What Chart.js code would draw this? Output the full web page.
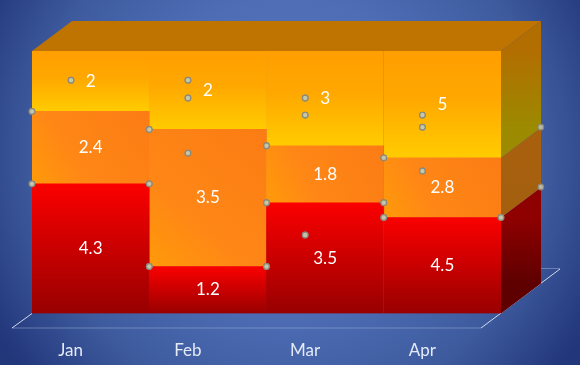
<!DOCTYPE html>
<html><head><meta charset="utf-8">
<style>html,body{margin:0;padding:0;background:#2f4783}canvas{display:block}</style>
<script src="https://cdn.jsdelivr.net/npm/chart.js@4"></script>
</head><body><canvas id="c" width="580" height="365"></canvas>
<script>
const categories = ['Jan', 'Feb', 'Mar', 'Apr'];
const series1 = [4.3, 1.2, 3.5, 4.5];
const series2 = [2.4, 3.5, 1.8, 2.8];
const series3 = [2, 2, 3, 5];
// small handle dots: x in category units, y in percent of the stack
const handleX = [-0.5,-0.5,-0.167,0.5,0.5,0.5,0.83,0.83,0.83,1.5,1.5,1.5,1.83,1.83,1.83,2.5,2.5,2.5,2.83,2.83,2.83,3.5,3.84,3.84];
const handleY = [77,49.4,88.9,70.1,49.4,17.9,88.9,82.1,61.1,63.9,42.2,17.9,82.1,75.6,29.9,59.3,42.2,36.6,75.6,71,54.3,36.6,71,48.2];

const totals = categories.map((_, i) => series1[i] + series2[i] + series3[i]);
const pct = s => s.map((v, i) => v / totals[i] * 100);
const rawSeries = [series1, series2, series3];
const base = [categories.map(() => 0), pct(series1), pct(series1).map((v, i) => v + pct(series2)[i])];

function barFill(k) {
  return ctx => {
    const c = ctx.chart, i = ctx.dataIndex, y = c.scales.y, area = c.chartArea;
    if (!area || !y) return '#f80';
    const y0 = y.getPixelForValue(base[k][i]), y1 = y.getPixelForValue(base[k][i] + pct(rawSeries[k])[i]);
    const w = (area.right - area.left) / categories.length;
    const x0 = area.left + i * w, x1 = x0 + w;
    let g;
    if (k === 1) {
      g = c.ctx.createLinearGradient(x0, y0, x1, y1);
      g.addColorStop(0, '#ff9a09'); g.addColorStop(0.35, '#ff8716'); g.addColorStop(1, '#fb7c14');
    } else {
      g = c.ctx.createLinearGradient(0, y1, 0, y0);
      if (k === 0) { g.addColorStop(0, '#fb0000'); g.addColorStop(1, '#980000'); }
      else { g.addColorStop(0, '#ff9e00'); g.addColorStop(0.45, '#ffa800'); g.addColorStop(1, '#ffcc00'); }
    }
    return g;
  };
}

const DX = 40, DY = -30;
const faces = {
  id: 'faces',
  beforeDraw(c) {
    const g = c.ctx, W = c.width, H = c.height;
    const bg = g.createRadialGradient(W / 2, H * 0.42, 0, W / 2, H * 0.42, 345);
    bg.addColorStop(0, '#5a79c3'); bg.addColorStop(0.45, '#4e6db5'); bg.addColorStop(0.75, '#3d5a9d'); bg.addColorStop(1, '#22367a');
    g.fillStyle = bg; g.fillRect(0, 0, W, H);
  },
  beforeDatasetsDraw(c) {
    const g = c.ctx, a = c.chartArea, y = c.scales.y, last = categories.length - 1;
    const R = a.right, L = a.left, T = a.top, B = a.bottom;
    g.save();
    g.lineWidth = 1;
    g.strokeStyle = 'rgba(160,178,215,.5)';
    g.beginPath(); g.moveTo(L - 20, B + 14.5); g.lineTo(R - 20, B + 14.5); g.stroke();
    g.beginPath(); g.moveTo(R + DX, B + 2 * DY + 15); g.lineTo(R + 59, B + 2 * DY + 15); g.stroke();
    g.strokeStyle = 'rgba(225,232,248,.9)';
    g.beginPath(); g.moveTo(L, B); g.lineTo(L - 20, B + 14.5); g.stroke();
    g.beginPath(); g.moveTo(R - 20, B + 14.5); g.lineTo(R + 59, B - 44.5); g.stroke();
    g.fillStyle = '#bf7300';
    g.beginPath(); g.moveTo(L, T); g.lineTo(L + DX, T + DY); g.lineTo(R + DX, T + DY); g.lineTo(R, T); g.closePath(); g.fill();
    const sideCols = [['#8f0000', '#5e0000'], ['#a8600e', '#a5600f'], ['#b26e00', '#9c8a00']];
    for (let k = 0; k < 3; k++) {
      const y0 = y.getPixelForValue(base[k][last]);
      const y1 = y.getPixelForValue(base[k][last] + pct(rawSeries[k])[last]);
      const lg = g.createLinearGradient(0, y1, 0, y0 + DY);
      lg.addColorStop(0, sideCols[k][0]); lg.addColorStop(1, sideCols[k][1]);
      g.fillStyle = lg;
      g.beginPath(); g.moveTo(R, y1); g.lineTo(R + DX, y1 + DY); g.lineTo(R + DX, y0 + DY); g.lineTo(R, y0); g.closePath(); g.fill();
    }
    g.restore();
  },
  afterDatasetsDraw(c) {
    const g = c.ctx, a = c.chartArea, w = (a.right - a.left) / categories.length;
    g.save();
    // seam between the last two columns
    const sx = Math.round(a.left + 3 * w) - 0.5;
    g.strokeStyle = 'rgba(190,90,0,.22)'; g.lineWidth = 1;
    g.beginPath(); g.moveTo(sx, a.top); g.lineTo(sx, a.bottom); g.stroke();
    // handle dots (the library skips those outside the plot area)
    const page = { left: 0, right: c.width, top: 0, bottom: c.height };
    c.getDatasetMeta(3).data.forEach(el => el.draw(g, page));
    // value labels
    g.font = '17px Lato';
    g.fillStyle = '#fff';
    g.textAlign = 'center'; g.textBaseline = 'middle';
    for (let k = 0; k < 3; k++) {
      c.getDatasetMeta(k).data.forEach((el, i) => {
        const p = el.getCenterPoint();
        g.fillText(String(rawSeries[k][i]), p.x, p.y);
      });
    }
    g.restore();
  }
};

new Chart(document.getElementById('c'), {
  data: {
    labels: categories,
    datasets: [
      ...rawSeries.map((s, k) => ({
        type: 'bar', label: 'Series ' + (k + 1), data: pct(s), backgroundColor: barFill(k),
        borderWidth: 0, categoryPercentage: 1, barPercentage: 1, order: 2, grouped: false
      })),
      {
        type: 'scatter', label: 'handles', xAxisID: 'xh', yAxisID: 'yh', clip: false, order: 0,
        data: handleX.map((x, i) => ({ x, y: handleY[i] })),
        pointRadius: 2.8, pointBorderWidth: 1.2,
        pointBackgroundColor: 'rgba(196,200,170,.85)', pointBorderColor: 'rgba(135,135,125,.9)'
      }
    ]
  },
  options: {
    responsive: false, animation: false, devicePixelRatio: 1,
    layout: { padding: { left: 32, right: 79, top: 51, bottom: 0 } },
    plugins: { legend: { display: false }, tooltip: { enabled: false }, title: { display: false } },
    scales: {
      x: {
        stacked: true, grid: { display: false }, border: { display: false },
        afterFit: s => { s.height = 51.5; },
        ticks: { color: '#e4eaf7', font: { family: 'Lato', size: 17 }, labelOffset: -20, padding: 19, maxRotation: 0, autoSkip: false }
      },
      y: { stacked: true, display: false, min: 0, max: 100 },
      xh: { type: 'linear', display: false, min: -0.5, max: 3.5 },
      yh: { type: 'linear', display: false, min: 0, max: 100 }
    }
  },
  plugins: [faces]
});
</script></body></html>
